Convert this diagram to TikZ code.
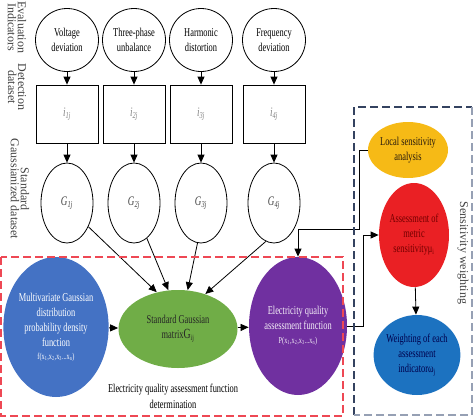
\documentclass[tikz,border=0pt]{standalone}
\usepackage{fontspec}
\setmainfont{Liberation Serif}
\newfontfamily\narrowfont{Liberation Serif}[FakeStretch=0.7]
\usetikzlibrary{arrows.meta, calc, shapes.geometric}

\definecolor{mvgblue}{RGB}{68,114,196}
\definecolor{sgmgreen}{RGB}{112,173,71}
\definecolor{eqapurple}{RGB}{112,48,160}
\definecolor{lsaorange}{RGB}{246,186,22}
\definecolor{amsred}{RGB}{234,32,36}
\definecolor{weiblue}{RGB}{28,114,192}
\definecolor{framered}{RGB}{238,72,84}
\definecolor{framedark}{RGB}{52,66,96}
\definecolor{framelight}{RGB}{150,160,180}

\begin{document}
\begin{tikzpicture}[x=1pt, y=-1pt, line width=0.8pt,
  every node/.style = {align=center, font=\narrowfont\fontsize{12}{15}\selectfont},
  indicator/.style = {circle, draw, minimum size=63pt, inner sep=0pt},
  databox/.style = {rectangle, draw, minimum width=62pt, minimum height=58pt, text=gray,
    font=\narrowfont\fontsize{13}{15}\selectfont},
  gauss/.style = {ellipse, draw, minimum width=52pt, minimum height=80pt, inner sep=0pt, text=darkgray,
    font=\narrowfont\fontsize{13}{15}\selectfont},
  blob/.style = {ellipse, inner sep=0pt},
  sidelabel/.style = {rotate=-90, font=\fontsize{12}{10}\selectfont, text=black!75},
  arr/.style = {-{Triangle[length=8pt, width=7pt]}}]

  \useasboundingbox (0,0) rectangle (474,418);

  % row labels
  \node[sidelabel] (lev) at (17,27) {Evaluation\\Indicators};
  \node[sidelabel] (lds) at (17,87) {Detection\\dataset};
  \node[sidelabel] (lsg) at (20,189) {Standard\\Gaussianized dataset};

  % evaluation indicators
  \node[indicator] (ev1) at (67,40) {Voltage\\deviation};
  \node[indicator] (ev2) at (134,40) {Three-phase\\unbalance};
  \node[indicator] (ev3) at (201,40) {Harmonic\\distortion};
  \node[indicator] (ev4) at (274,40) {Frequency\\deviation};

  % detection dataset
  \node[databox] (ds1) at (67,114) {\itshape i\textsubscript{1j}};
  \node[databox] (ds2) at (134,114) {\itshape i\textsubscript{2j}};
  \node[databox] (ds3) at (201,114) {\itshape i\textsubscript{3j}};
  \node[databox] (ds4) at (274,114) {\itshape i\textsubscript{4j}};

  % gaussianized dataset
  \node[gauss] (g1) at (67,203) {\itshape G\textsubscript{1j}};
  \node[gauss] (g2) at (134,203) {\itshape G\textsubscript{2j}};
  \node[gauss] (g3) at (201,203) {\itshape G\textsubscript{3j}};
  \node[gauss] (g4) at (274,203) {\itshape G\textsubscript{4j}};

  \foreach \i in {1,...,4} {
    \draw[arr] (ev\i) -- (ds\i);
    \draw[arr] (ds\i) -- (g\i);
  }

  % assessment function determination
  \node[blob, fill=mvgblue, text=white, minimum width=98pt, minimum height=140pt] (mvg) at (56,327)
    {Multivariate Gaussian\\distribution\\probability density\\function\\[-2pt]
     {\small f(x\textsubscript{1},x\textsubscript{2},x\textsubscript{3}...x\textsubscript{n})}};
  \node[blob, fill=sgmgreen, text=black!85, minimum width=119pt, minimum height=78pt] (sgm) at (178,329)
    {Standard Gaussian\\matrix{\fontsize{14}{15}\selectfont G}\textsubscript{ij}};
  \node[blob, fill=eqapurple, text=white!92!eqapurple, minimum width=98pt, minimum height=138pt] (eqa) at (298,326)
    {Electricity quality\\assessment function\\[-1pt]
     {\small P(x\textsubscript{1},x\textsubscript{2},x\textsubscript{3}...x\textsubscript{n})}};
  \node (det) at (173,396) [font=\narrowfont\fontsize{12}{16}\selectfont]
    {Electricity quality assessment function\\determination};

  \draw[arr] (g1.-48) -- (sgm.120);
  \draw[arr] (g2.-70) -- (sgm.104);
  \draw[arr] (g3.-95) -- (sgm.76);
  \draw[arr] (g4.-102) -- (sgm.52);
  \draw[arr] (mvg) -- (sgm);
  \draw[arr] (sgm) -- (eqa);

  % sensitivity weighting
  \node[blob, fill=lsaorange, text=black!80!brown, minimum width=80pt, minimum height=56pt] (lsa) at (408,150)
    {Local sensitivity\\analysis};
  \node[blob, fill=amsred, text=red!45!black, minimum width=70pt, minimum height=104pt] (ams) at (414,235)
    {Assessment of\\metric\\sensitivityμ\textsubscript{i}};
  \node[blob, fill=weiblue, text=blue!30!black, minimum width=84pt, minimum height=80pt] (wei) at (417,355)
    {Weighting of each\\assessment\\indicatorω\textsubscript{j}};
  \node[sidelabel] (lsw) at (463,253) {Sensitivity weighting};

  \draw[arr] (ams) -- (wei);
  \draw[arr] (lsa.west) -- ++(-8,0) |- ($(eqa.north)+(0,-27)$) -- (eqa.north);
  \draw[arr] (eqa.east) -- ++(16,0) |- (ams.west);

  % frames
  \draw[framered, line width=1.4pt, dash pattern=on 8pt off 4pt] (1,257) rectangle (343,416);
  \draw[framedark, line width=1.4pt, dash pattern=on 8pt off 4pt] (354,415) -- (354,107) -- (472,107);
  \draw[framelight, line width=1.4pt, dash pattern=on 8pt off 4pt] (472,107) -- (472,415) -- (354,415);
\end{tikzpicture}
\end{document}
